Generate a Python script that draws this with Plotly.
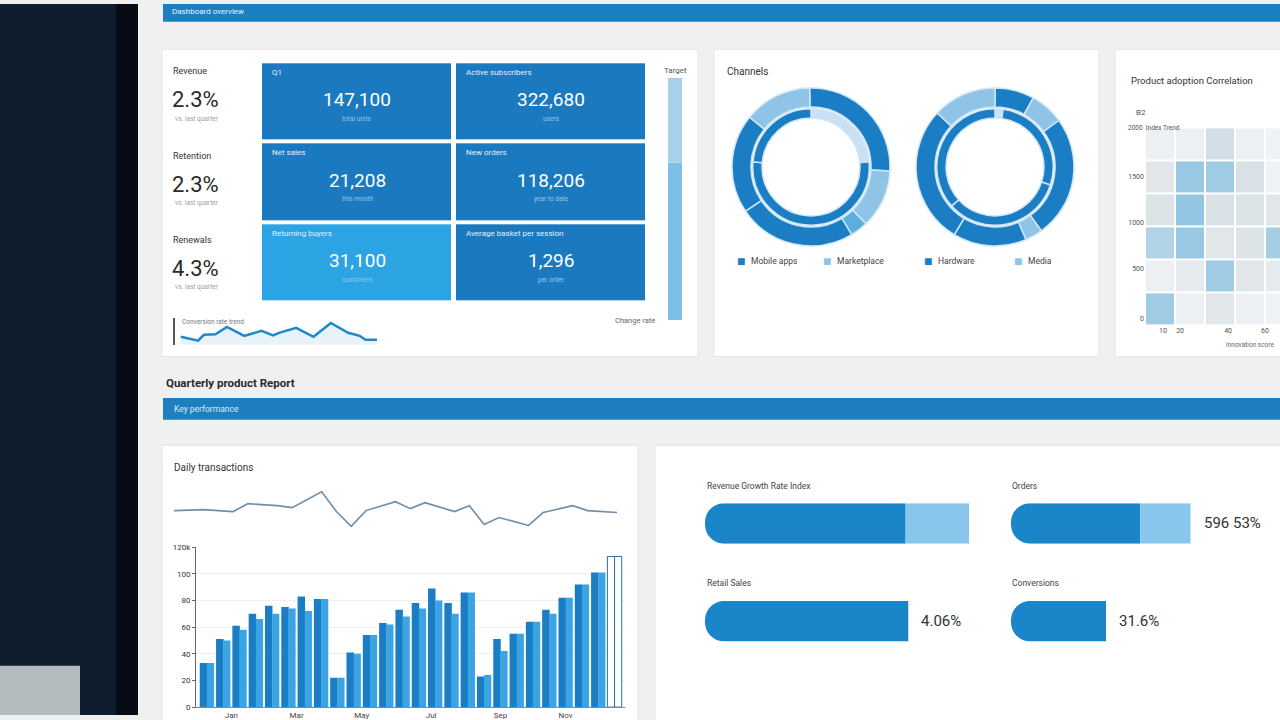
import plotly.graph_objects as go

W, H = 1280, 720
def PX(x): return x / W
def PY(y): return 1 - y / H
def DX(a, b): return [PX(a), PX(b)]
def DY(top, bottom): return [PY(bottom), PY(top)]

FONT = "Roboto, 'Open Sans', Arial, sans-serif"
TXT = "#2b2f33"
DARK = "#1b7dc3"
LIGHT = "#8fc4e7"
MID = "#5aaee0"
PALE = "#c9e1f2"
PBAR = "#1a86c9"

# ---------------- data ----------------
kpi_labels = ["Revenue", "Retention", "Renewals"]
kpi_values = ["2.3%", "2.3%", "4.3%"]
kpi_notes = ["vs. last quarter", "vs. last quarter", "vs. last quarter"]

tile_titles = [["Q1", "Active subscribers"], ["Net sales", "New orders"],
               ["Returning buyers", "Average basket per session"]]
tile_values = [["147,100", "322,680"], ["21,208", "118,206"], ["31,100", "1,296"]]
tile_notes = [["total units", "users"], ["this month", "year to date"], ["customers", "per order"]]
tile_highlight = [[0, 0], [0, 0], [1, 0]]

target_done = 65
target_left = 35

spark_x = [1, 4, 5, 7, 9, 12, 15, 17, 18, 21, 24, 27, 30, 32, 33, 35]
spark_values = [8, 4, 10, 10.5, 18, 9, 14, 9.5, 12, 17, 8, 22, 12, 9, 5, 5]

donut1_outer = [94, 43, 13, 87, 73, 50]
donut1_outer_colors = [DARK, LIGHT, MID, DARK, DARK, LIGHT]
donut1_inner = [85, 190, 85]
donut1_inner_colors = [PALE, DARK, DARK]
donut2_outer = [29, 25, 90, 13, 54, 102, 47]
donut2_outer_colors = [DARK, LIGHT, DARK, LIGHT, DARK, DARK, LIGHT]
donut2_inner = [8, 100, 120, 132]
donut2_inner_colors = [PALE, DARK, DARK, DARK]
legend_labels = ["Mobile apps", "Marketplace", "Hardware", "Media"]
legend_colors = [DARK, LIGHT, DARK, LIGHT]

heat_z = [
    [0.10, 0.10, 0.45, 0.10, 0.05, 0.05],
    [0.30, 0.90, 0.85, 0.40, 0.05, 0.60],
    [0.35, 0.95, 0.40, 0.35, 0.30, 0.10],
    [0.70, 0.90, 0.30, 0.35, 0.80, 0.20],
    [0.10, 0.20, 0.85, 0.30, 0.20, 0.10],
    [0.85, 0.10, 0.30, 0.10, 0.05, 0.05],
]
heat_ytext = ["1500", "1000", "500", "0"]
heat_xtext = ["10", "20", "40", "60"]

daily_x = [0, 2, 4, 5, 7, 8, 10, 11, 12, 13, 15, 16, 17, 19, 20, 21, 22, 24, 25, 27, 28, 30]
daily_values = [27, 28, 26, 34, 32, 30, 46, 26, 11, 27, 36, 29, 35, 26, 32, 13, 20, 12, 25, 32, 27, 25]

bar_primary = [33, 51, 61, 70, 76, 75, 83, 81, 22, 41, 54, 63, 73, 78, 89, 78, 86,
               23, 51, 55, 64, 73, 82, 92, 101, 113]
bar_secondary = [33, 50, 58, 66, 70, 74, 72, 81, 22, 40, 54, 62, 68, 74, 80, 70, 86,
                 24, 42, 55, 64, 70, 82, 92, 101, 113]
bar_ticks = ["Jan", "Mar", "May", "Jul", "Sep", "Nov"]
bar_yticks = ["0", "20", "40", "60", "80", "100", "120k"]

progress_labels = ["Revenue Growth Rate Index", "Orders", "Retail Sales", "Conversions"]
progress_done = [76, 49, 77, 36]
progress_rest = [24, 19, 0, 0]
progress_text = ["", "596 53%", "4.06%", "31.6%"]

# ---------------- figure ----------------
fig = go.Figure()

# KPI tiles (heatmap grid)
fig.add_trace(go.Heatmap(z=tile_highlight, x=[0, 1], y=[0, 1, 2],
                         colorscale=[[0, "#1b7abf"], [1, "#2ca4e4"]], showscale=False,
                         xgap=5, ygap=4, hoverinfo="skip", xaxis="x", yaxis="y"))

# sparkline
fig.add_trace(go.Scatter(x=spark_x, y=spark_values, mode="lines",
                         line=dict(color="#1e88c8", width=2.5), fill="tozeroy",
                         fillcolor="rgba(30,136,200,0.10)", hoverinfo="skip",
                         xaxis="x2", yaxis="y2"))

# target vertical bar
fig.add_trace(go.Bar(x=[0], y=[target_done], base=[0], width=1, marker_color="#7dbfe7",
                     marker_line_width=0, hoverinfo="skip", xaxis="x3", yaxis="y3"))
fig.add_trace(go.Bar(x=[0], y=[target_left], base=[target_done], width=1, marker_color="#a9d0ea",
                     marker_line_width=0, hoverinfo="skip", xaxis="x3", yaxis="y3"))

# donuts
def donut(vals, cols, cx, cy, r, hole, rot=0):
    fig.add_trace(go.Pie(values=vals, marker=dict(colors=cols, line=dict(color="#cfe6f6", width=1.5)),
                         hole=hole, sort=False, direction="clockwise", rotation=rot,
                         textinfo="none", hoverinfo="skip", showlegend=False,
                         domain=dict(x=DX(cx - r, cx + r), y=DY(cy - r, cy + r))))

donut(donut1_outer, donut1_outer_colors, 811, 165, 80, 0.76, -1)
donut(donut1_inner, donut1_inner_colors, 811, 165, 59, 0.84)
donut(donut2_outer, donut2_outer_colors, 995, 165, 80, 0.76)
donut(donut2_inner, donut2_inner_colors, 995, 165, 59, 0.84)

# heatmap (panel 3)
fig.add_trace(go.Heatmap(z=heat_z, x=list(range(6)), y=list(range(6)),
                         colorscale=[[0, "#f3f5f7"], [0.4, "#d9e1e6"], [1, "#8bc3e3"]],
                         zmin=0, zmax=1, showscale=False, xgap=2, ygap=2, hoverinfo="skip",
                         xaxis="x4", yaxis="y4"))

# daily line
fig.add_trace(go.Scatter(x=daily_x, y=daily_values, mode="lines",
                         line=dict(color="#6f8ea8", width=1.6), hoverinfo="skip",
                         xaxis="x5", yaxis="y5"))

# bar chart
n = len(bar_primary)
c1 = [DARK] * (n - 1) + ["#ffffff"]
c2 = ["#3ba4e4"] * (n - 1) + ["#ffffff"]
l1 = [DARK] * (n - 1) + ["#2a6ea5"]
fig.add_trace(go.Bar(x=list(range(n)), y=bar_primary, offset=-0.44, width=0.46,
                     marker=dict(color=c1, line=dict(color=l1, width=[0] * (n - 1) + [1])),
                     hoverinfo="skip", xaxis="x6", yaxis="y6"))
fig.add_trace(go.Bar(x=list(range(n)), y=bar_secondary, offset=0.0, width=0.44,
                     marker=dict(color=c2, line=dict(color=l1, width=[0] * (n - 1) + [1])),
                     hoverinfo="skip", xaxis="x6", yaxis="y6"))

# progress bars: one small subplot per bar; the completed part grows leftward from 0
# so that only its left end is rounded; the remainder grows rightward from 0.
prog_left = [705, 1011, 705, 1011]
prog_mid = [526, 526, 625, 625]
for i in range(4):
    k = 7 + i
    fig.add_trace(go.Bar(orientation="h", y=[0], x=[-progress_done[i]], width=1,
                         marker=dict(color=PBAR, cornerradius="48%", line_width=0),
                         hoverinfo="skip", xaxis="x%d" % k, yaxis="y%d" % k))
    if progress_rest[i] > 0:
        fig.add_trace(go.Bar(orientation="h", y=[0], x=[progress_rest[i]], width=1,
                             marker=dict(color="#88c6eb", line_width=0),
                             hoverinfo="skip", xaxis="x%d" % k, yaxis="y%d" % k))

# ---------------- axes ----------------
hidden = dict(visible=False, fixedrange=True)
lay = {}
def axes(i, xd, yd, xr=None, yr=None, xopts=None, yopts=None):
    sx = "" if i == 1 else str(i)
    xo = dict(hidden); yo = dict(hidden)
    xo.update(domain=xd, anchor="y" + sx)
    yo.update(domain=yd, anchor="x" + sx)
    if xr is not None: xo["range"] = xr
    if yr is not None: yo["range"] = yr
    if xopts: xo.update(xopts)
    if yopts: yo.update(yopts)
    lay["xaxis" + sx] = xo
    lay["yaxis" + sx] = yo

axes(1, DX(260, 648), DY(58, 302), [-0.5, 1.5], [2.5, -0.5])
axes(2, DX(175, 377), DY(318, 345), [0, 35], [0, 27],
     yopts=dict(visible=True, showline=True, linecolor="#555", linewidth=1.5, showticklabels=False,
                showgrid=False, zeroline=False, ticks=""))
axes(3, DX(668, 682), DY(75, 320), [-0.5, 0.5], [0, 100])
axes(4, DX(1145, 1280), DY(125, 325), [-0.5, 4.0], [5.5, -0.5],
     xopts=dict(visible=True, showgrid=False, zeroline=False, showline=False, ticks="",
                tickvals=[0.1, 0.67, 2.27, 3.5], ticktext=heat_xtext,
                tickfont=dict(size=7, color="#555", family=FONT)),
     yopts=dict(visible=True, showgrid=False, zeroline=False, showline=False, ticks="",
                tickvals=[1, 2.4, 3.8, 5.3], ticktext=heat_ytext,
                tickfont=dict(size=7, color="#555", family=FONT)))
axes(5, DX(174, 617), DY(488, 535), [0, 30], [5, 52])
axes(6, DX(196, 625), DY(550, 712), [-0.67, 25.64], [0, 120],
     xopts=dict(visible=True, showgrid=False, zeroline=False, showline=True, linecolor="#888",
                linewidth=1, ticks="", tickvals=[1.5, 5.5, 9.5, 13.75, 18, 22], ticktext=bar_ticks,
                tickfont=dict(size=8, color="#444", family=FONT)),
     yopts=dict(visible=True, showgrid=True, gridcolor="#efefef", zeroline=False, showline=True,
                linecolor="#666", linewidth=1, ticks="outside", ticklen=3, tickcolor="#666",
                tickvals=[0, 20, 40, 60, 80, 100, 120], ticktext=bar_yticks,
                tickfont=dict(size=8, color="#333", family=FONT)))
for i in range(4):
    axes(7 + i, DX(prog_left[i], prog_left[i] + 264), DY(prog_mid[i] - 20.5, prog_mid[i] + 20.5),
         [-progress_done[i], 100 - progress_done[i]], [-0.5, 0.5])

# ---------------- shapes ----------------
def rect(x0, y0, x1, y1, fill, line=None, lw=0):
    return dict(type="rect", xref="paper", yref="paper", x0=PX(x0), x1=PX(x1), y0=PY(y1), y1=PY(y0),
                fillcolor=fill, line=dict(color=line or fill, width=lw), layer="below")

shapes = [
    rect(0, 0, 116, 720, "#0f1d2e"),
    rect(116, 0, 138, 720, "#060b14"),
    rect(0, 670, 80, 720, "#b4bcbf"),
    rect(163, 0, 1280, 18, "#1c7fc2"),
    rect(162, 46, 698, 357, "#ffffff", "#e6e6e6", 1),
    rect(714, 46, 1099, 357, "#ffffff", "#e6e6e6", 1),
    rect(1115, 46, 1290, 357, "#ffffff", "#e6e6e6", 1),
    rect(163, 399, 1280, 421, "#1e7fbf"),
    rect(162, 447, 638, 730, "#ffffff", "#e6e6e6", 1),
    rect(655, 447, 1290, 730, "#ffffff", "#e6e6e6", 1),
]

# ---------------- annotations ----------------
ann = []
def T(x, y, text, size=9, color=TXT, anchor="left", bold=False, ref=("paper", "paper"), **kw):
    if bold:
        text = "<b>" + text + "</b>"
    d = dict(x=PX(x) if ref[0] == "paper" else x, y=PY(y) if ref[1] == "paper" else y,
             xref=ref[0], yref=ref[1], text=text, showarrow=False, xanchor=anchor, yanchor="middle",
             font=dict(size=size, color=color, family=FONT))
    d.update(kw)
    ann.append(d)

T(170, 8, "Dashboard overview", 8, "#e8f2fa")
for i, off in enumerate([0, 86, 171]):
    T(171, 68 + off, kpi_labels[i], 9, "#333")
    T(170, 97 + off, kpi_values[i], 22, "#2a2a2a")
    T(173, 116 + off, kpi_notes[i], 6.5, "#a0a0a0")

for r in range(3):
    for c in range(2):
        T(c - 0.45, r - 0.36, tile_titles[r][c], 8, "#e3f0fa", ref=("x", "y"))
        T(c, r - 0.02, tile_values[r][c], 19, "#ffffff", anchor="center", ref=("x", "y"))
        T(c, r + 0.22, tile_notes[r][c], 6.5, "#8cc6ec", anchor="center", ref=("x", "y"))

T(675, 67, "Target", 8, "#555", anchor="center")
T(180, 322, "Conversion rate trend", 6.5, "#777")
T(657, 321, "Change rate", 7.5, "#666", anchor="right")

T(725, 68, "Channels", 10, "#333")
for lx, lab, colr in zip([741, 827, 928, 1018], legend_labels, legend_colors):
    T(lx, 260, "■", 14, colr, anchor="center")
    T(lx + 8, 260, lab, 8.5, "#444")

T(1129, 77, "Product adoption Correlation", 9.5, "#333")
T(1134, 110, "B2", 8, "#555")
T(1126, 126, "2000  Index Trend", 6.5, "#555")
T(1224, 345, "Innovation score", 6.5, "#666")

T(164, 384, "Quarterly product Report", 11.5, "#2a2a2a", bold=True)
T(172, 410, "Key performance", 8.5, "#d8ebf8")
T(172, 469, "Daily transactions", 10, "#333")

lab_pos = [(705, 488), (1010, 488), (705, 586), (1010, 586)]
for i in range(4):
    T(lab_pos[i][0], lab_pos[i][1], progress_labels[i], 8.5, "#444")
    if progress_text[i]:
        k = 7 + i
        T(progress_rest[i], 0, progress_text[i], 15, "#333",
          ref=("x%d" % k, "y%d" % k), xshift=11)

fig.update_layout(
    width=W, height=H, margin=dict(l=0, r=0, t=0, b=0),
    paper_bgcolor="#f0f0f0", plot_bgcolor="rgba(0,0,0,0)",
    barmode="overlay", showlegend=False, shapes=shapes, annotations=ann,
    font=dict(family=FONT), **lay)

fig.write_html("out.html", config={"displayModeBar": False})
